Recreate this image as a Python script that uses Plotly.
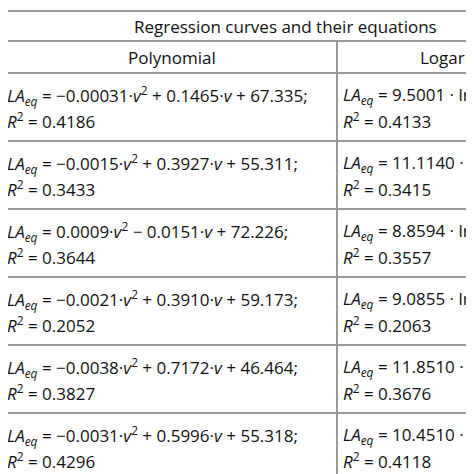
import plotly.graph_objects as go

title = "Regression curves and their equations"
col_heads = ["Polynomial", "Logarithmic"]
poly_eq = ["&#8722;0.00031·<i>v</i><sup>2</sup> + 0.1465·<i>v</i> + 67.335;",
           "&#8722;0.0015·<i>v</i><sup>2</sup> + 0.3927·<i>v</i> + 55.311;",
           "0.0009·<i>v</i><sup>2</sup> &#8722; 0.0151·<i>v</i> + 72.226;",
           "&#8722;0.0021·<i>v</i><sup>2</sup> + 0.3910·<i>v</i> + 59.173;",
           "&#8722;0.0038·<i>v</i><sup>2</sup> + 0.7172·<i>v</i> + 46.464;",
           "&#8722;0.0031·<i>v</i><sup>2</sup> + 0.5996·<i>v</i> + 55.318;"]
poly_r2 = ["0.4186", "0.3433", "0.3644", "0.2052", "0.3827", "0.4296"]
log_coef = ["9.5001", "11.1140", "8.8594", "9.0855", "11.8510", "10.4510"]
log_r2 = ["0.4133", "0.3415", "0.3557", "0.2063", "0.3676", "0.4118"]

row_top = [65, 133, 201, 269, 337, 405]
hlines = [3, 33, 65, 133, 201, 269, 337, 405, 472]
split_x = 329
font = dict(family="Open Sans", size=17, color="#111")
LA = "<i>LA</i><sub><i>eq</i></sub> = "

fig = go.Figure()
shapes = []
for y in hlines:
    shapes.append(dict(type="line", x0=0, x1=474, y0=y, y1=y, xref="x", yref="y",
                       line=dict(color="#9a9a9a", width=2)))
shapes.append(dict(type="line", x0=split_x, x1=split_x, y0=33, y1=474, xref="x", yref="y",
                   line=dict(color="#9a9a9a", width=2)))
ann = [dict(x=277, y=18, text=title, showarrow=False, font=font, xanchor="center", yanchor="middle"),
       dict(x=164, y=49, text=col_heads[0], showarrow=False, font=font, xanchor="center", yanchor="middle"),
       dict(x=410, y=49, text=col_heads[1], showarrow=False, font=font, xanchor="left", yanchor="middle")]
for i, t in enumerate(row_top):
    ann.append(dict(x=0, xshift=-3, y=t + 22, text=LA + poly_eq[i], showarrow=False, font=font, xanchor="left", yanchor="middle"))
    ann.append(dict(x=0, xshift=-3, y=t + 47, text="<i>R</i><sup>2</sup> = " + poly_r2[i], showarrow=False, font=font, xanchor="left", yanchor="middle"))
    ann.append(dict(x=333, y=t + 22, text=LA + log_coef[i] + " · ln(<i>v</i>)", showarrow=False, font=font, xanchor="left", yanchor="middle"))
    ann.append(dict(x=333, y=t + 47, text="<i>R</i><sup>2</sup> = " + log_r2[i], showarrow=False, font=font, xanchor="left", yanchor="middle"))

fig.update_layout(width=474, height=474, margin=dict(l=0, r=0, t=0, b=0),
                  paper_bgcolor="white", plot_bgcolor="white", shapes=shapes, annotations=ann,
                  xaxis=dict(range=[0, 474], visible=False, fixedrange=True),
                  yaxis=dict(range=[474, 0], visible=False, fixedrange=True),
                  showlegend=False)
fig.write_html("out.html")
